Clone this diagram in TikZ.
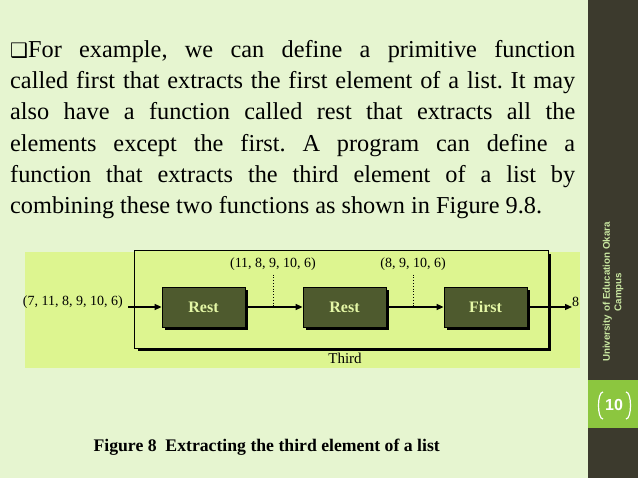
\documentclass[tikz,border=0pt]{standalone}
\usepackage{fontspec}
\setmainfont{Liberation Serif}
\setsansfont{Liberation Sans}
\newfontfamily\dejavu{DejaVu Sans}
\usetikzlibrary{arrows.meta}
\definecolor{bg}{HTML}{E6F5D0}
\definecolor{band}{HTML}{DDF590}
\definecolor{boxc}{HTML}{4E5A2E}
\definecolor{side}{HTML}{3C3A2D}
\definecolor{sidegreen}{HTML}{8CC63F}
\definecolor{sidetext}{HTML}{C8E6A0}
\tikzset{
  fbox/.style={draw=black, fill=boxc, line width=0.8pt, minimum width=83pt, minimum height=40pt, text=band!80!white, font=\bfseries\fontsize{16}{16}\selectfont},
  flow/.style={-{Triangle[length=7pt,width=6pt]}, line width=1.3pt},
  lbl/.style={font=\fontsize{14}{14}\selectfont, inner sep=0pt},
}
\begin{document}
\begin{tikzpicture}[x=1pt,y=-1pt]
\useasboundingbox (0,0) rectangle (638,478);
\fill[bg] (0,0) rectangle (638,478);
\fill[side] (588,0) rectangle (638,478);
\fill[sidegreen] (588,380) rectangle (638,428);
\node[rotate=90, text=sidetext, font=\sffamily\bfseries\fontsize{9.8}{11.5}\selectfont, align=center] (uni) at (613,292) {University of Education Okara\\Campus};
\node[text=white, font=\sffamily\bfseries\fontsize{16}{16}\selectfont] (num) at (614,405) {10};
\draw[white, line width=1.2pt] (603,392) .. controls (597,392) and (597,419) .. (603,419);
\draw[white, line width=1.2pt] (626,392) .. controls (632,392) and (632,419) .. (626,419);
\node[anchor=north west, inner sep=0pt, text width=565pt, align=justify, font=\fontsize{24.3}{31.3}\selectfont] (txt) at (10,40)
 {\frenchspacing{\dejavu\fontsize{20}{20}\selectfont ❑}For example, we can define a primitive function\linebreak called first that extracts the first element of a list. It may\linebreak also have a function called rest that extracts all the\linebreak elements except the first. A program can define a\linebreak function that extracts the third element of a list by\linebreak combining these two functions as shown in Figure 9.8.};
\fill[band] (25,252) rectangle (580,368);
\fill[black] (138,254) rectangle (551,351);
\draw[black, line width=0.8pt, fill=band] (134,250) rectangle (548,348);
\fill[black] (165,290) rectangle (248,330);
\fill[black] (306,290) rectangle (389,330);
\fill[black] (447,290) rectangle (530,330);
\node[fbox] (r1) at (203.5,307) {Rest};
\node[fbox] (r2) at (344.5,307) {Rest};
\node[fbox] (f1) at (485.5,307) {First};
\node[lbl, anchor=east] (in) at (123,302) {(7, 11, 8, 9, 10, 6)};
\node[lbl, anchor=west] (out) at (572,302) {8};
\coordinate (inS) at (128,307);
\coordinate (outE) at (572,307);
\node[lbl] (l1) at (273,264) {(11, 8, 9, 10, 6)};
\node[lbl] (l2) at (413,264) {(8, 9, 10, 6)};
\node[lbl, font=\fontsize{15}{15}\selectfont] (third) at (345,358) {Third};
\draw[flow] (inS) -- (r1);
\draw[flow] (r1) -- (r2);
\draw[flow] (r2) -- (f1);
\draw[flow] (f1) -- (outE);
\draw[dotted, line width=0.8pt] (l1.south) ++(0,4) -- (273,307);
\draw[dotted, line width=0.8pt] (l2.south) ++(0,4) -- (413,307);
\node[font=\bfseries\fontsize{17.7}{17.7}\selectfont, anchor=west] (cap) at (90,447) {Figure 8\enspace Extracting the third element of a list};
\end{tikzpicture}
\end{document}
